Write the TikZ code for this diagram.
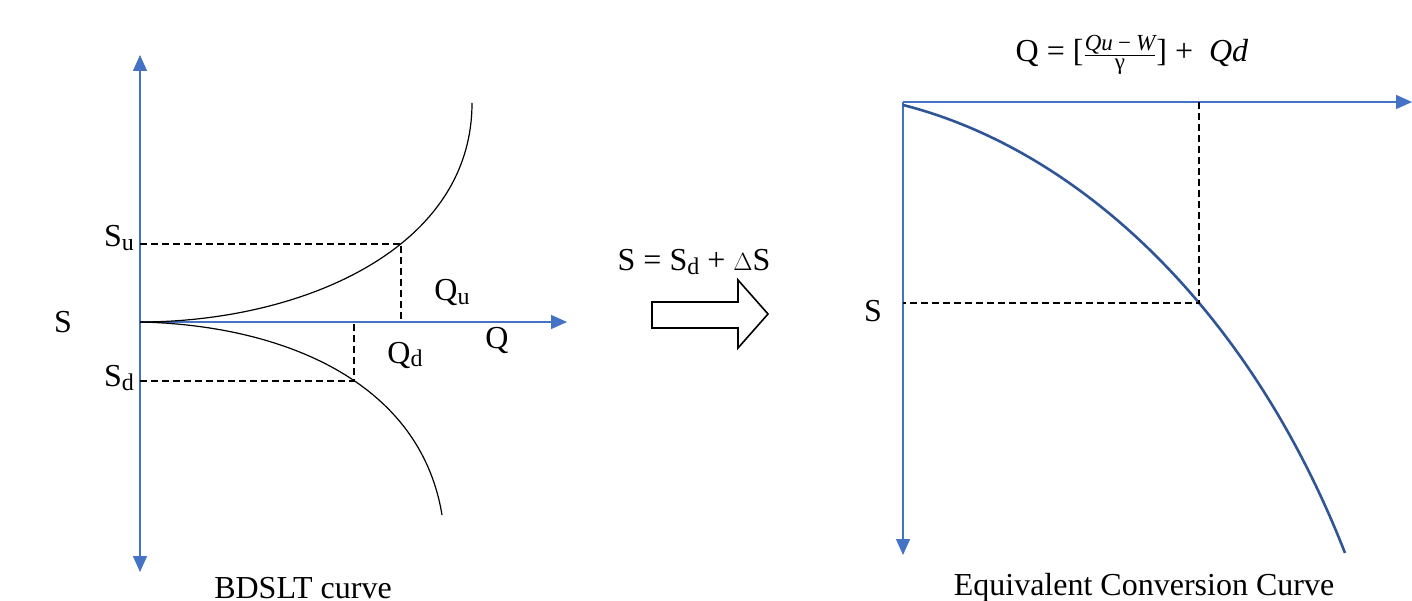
\documentclass[tikz,border=0pt]{standalone}
\usepackage{fontspec}
\setmainfont{Liberation Serif}
\usetikzlibrary{arrows.meta}
\definecolor{axblue}{RGB}{68,114,196}
\definecolor{cvblue}{RGB}{47,85,151}
\tikzset{
  axis/.style={draw=axblue,line width=1.4pt,-{Triangle[width=14pt,length=16pt]}},
  lbl/.style={font=\fontsize{32}{36}\selectfont,inner sep=0pt},
  dsh/.style={line width=2pt,dash pattern=on 7pt off 4pt},
}
\newcommand{\sbs}[1]{\raisebox{-0.25ex}{\fontsize{24}{26}\selectfont #1}}
\newcommand{\smt}[1]{\hbox{\fontsize{23}{25}\selectfont #1}}
\begin{document}
\begin{tikzpicture}[x=1pt,y=-1pt]
\useasboundingbox (0,0) rectangle (1412,601);
% left axes
\coordinate (o) at (140,322);
\draw[axis] (o) -- (140,55);
\draw[axis] (o) -- (140,572);
\draw[axis] (o) -- (567,322);
% curves
\draw[line width=1.2pt] (o) .. controls (300,322) and (472,250) .. (472,103) coordinate[pos=0.6] (cu);
\draw[line width=1.2pt] (o) .. controls (280,325) and (420,380) .. (442,515) coordinate[pos=0.56] (cd);
\draw[dsh] (140,0 |- cu) -- (cu) -- (cu |- o);
\draw[dsh] (140,0 |- cd) -- (cd) -- (cd |- o);
\node[lbl,anchor=east] (su) at (134,238) {S\sbs{u}};
\node[lbl] (s1) at (63,322) {S};
\node[lbl,anchor=east] (sd) at (134,378) {S\sbs{d}};
\node[lbl] (qu) at (452,293) {Q\sbs{u}};
\node[lbl] (qd) at (405,355) {Q\sbs{d}};
\node[lbl] (q) at (497,340) {Q};
\node[lbl] (c1) at (303,588) {BDSLT curve};
% middle
\node[lbl] (eq) at (694,262) {S = S\sbs{d} + $\Delta$S};
\draw[line width=1.6pt,fill=white] (652,302) -- (738,302) -- (738,280) -- (768,314) -- (738,348) -- (738,328) -- (652,328) -- cycle;
% right axes
\coordinate (o2) at (903,102);
\draw[axis] (o2) -- (1412,102);
\draw[axis] (o2) -- (903,555);
\draw[cvblue,line width=2.6pt] (903,105) .. controls (1080,150) and (1250,310) .. (1345,553) coordinate[pos=0.6] (cr);
\draw[dsh] (cr |- o2) -- (cr) -- (903,0 |- cr);
\node[lbl] (s2) at (873,311) {S};
\node[lbl] (f) at (1132,55) {Q = [${\smt{\itshape Qu\,−\,W}}\over{\smt{γ}}$] + \ \textit{Qd}};
\node[lbl] (c2) at (1144,588) {Equivalent Conversion Curve};
\end{tikzpicture}
\end{document}
